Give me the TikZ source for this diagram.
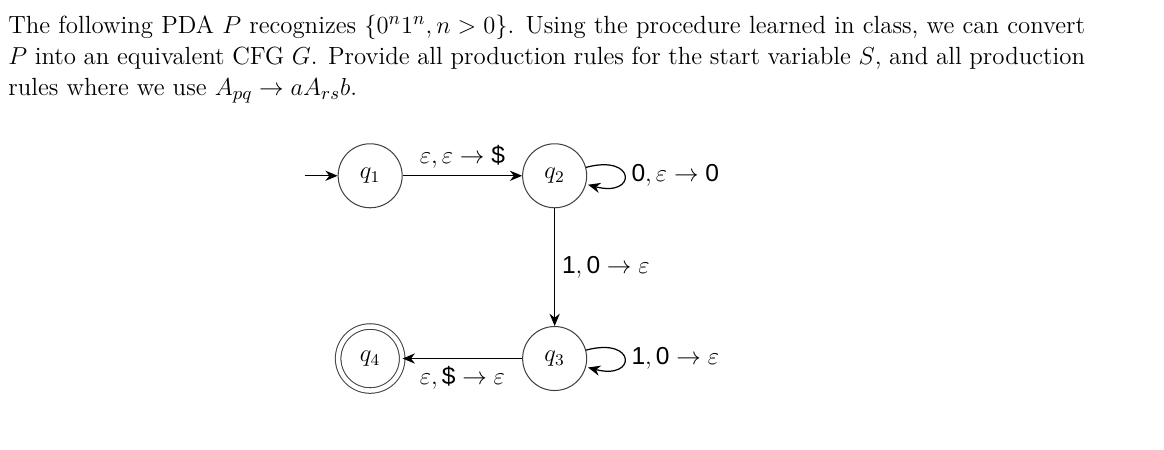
\documentclass[tikz,border=0pt]{standalone}
\usepackage{fontspec}
\usepackage{tikz}
\usetikzlibrary{arrows.meta}
\newfontfamily\lblfont{Liberation Sans}
\newcommand{\sy}[1]{\mbox{\lblfont #1}}

\begin{document}
\begin{tikzpicture}[>={Stealth[length=6pt,width=5pt]},
    state/.style={shape=circle,draw=black!75,line width=0.5pt,minimum size=1.1cm,inner sep=0pt,font=\large},
    lbl/.style={font=\large}]
    \useasboundingbox (0,0) rectangle (20,-7.731);
    % question text
    \node[anchor=north west,inner sep=0pt,text width=18.5cm,align=justify,
          font=\fontsize{12.15}{15.3}\selectfont] (txt) at (0.137,-0.25)
    {\hyphenpenalty=10000 The following PDA $P$ recognizes $\{0^n1^n, n>0\}$. Using the procedure learned in class, we can convert\linebreak
     $P$ into an equivalent CFG $G$. Provide all production rules for the start variable $S$, and all production\linebreak
     rules where we use $A_{pq}\rightarrow aA_{rs}b$.};
    % the PDA
    \node[state] (q1) at (6.36,-3.02) {$q_1$};
    \node[state] (q2) at (9.53,-3.02) {$q_2$};
    \node[state] (q3) at (9.53,-6.16) {$q_3$};
    \node[state,double,double distance=2.2pt] (q4) at (6.36,-6.16) {$q_4$};
    \coordinate (start) at (5.24,-3.02);
    \path [->,line width=0.6pt] (start) edge (q1);
    \path [->,line width=0.6pt] (q1) edge node[above,lbl]{$\varepsilon,\varepsilon\rightarrow\sy{\$}$} (q2);
    \path [->,line width=0.6pt] (q2) edge[loop right] node[right,lbl]{$\sy{0},\varepsilon\rightarrow\sy{0}$} (q2);
    \path [->,line width=0.6pt] (q2) edge node[right,lbl]{$\sy{1},\sy{0}\rightarrow\varepsilon$} (q3);
    \path [->,line width=0.6pt] (q3) edge[loop right] node[right,lbl]{$\sy{1},\sy{0}\rightarrow\varepsilon$} (q3);
    \path [->,line width=0.6pt] (q3) edge node[below,lbl]{$\varepsilon,\sy{\$}\rightarrow\varepsilon$} (q4);
\end{tikzpicture}
\end{document}
